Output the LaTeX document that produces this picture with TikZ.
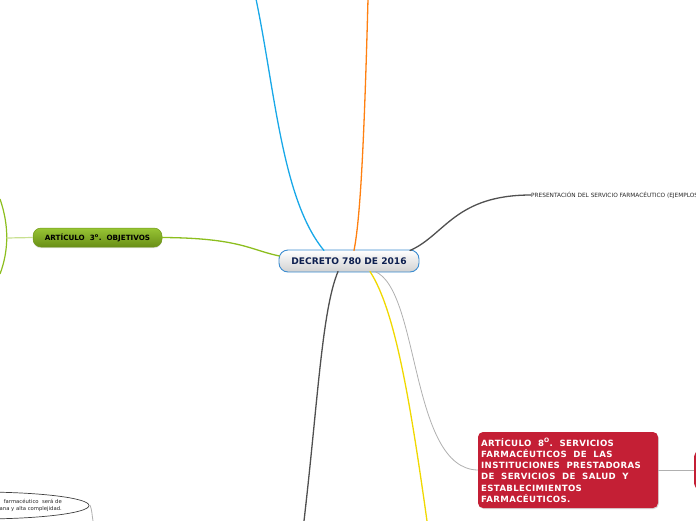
\documentclass[tikz,border=0pt]{standalone}
\usepackage{fontspec}
\setmainfont{DejaVu Sans}
\usetikzlibrary{shadows,shapes.geometric}
\definecolor{cblue}{HTML}{18A8E8}
\definecolor{corange}{HTML}{FF8010}
\definecolor{cdark}{HTML}{505050}
\definecolor{cyellow}{HTML}{F0D800}
\definecolor{clgray}{HTML}{B0B0B0}
\definecolor{cgreen}{HTML}{8CBE1E}
\definecolor{cgreenl}{HTML}{C8E090}
\definecolor{cred}{HTML}{C41F35}
\definecolor{cnavy}{HTML}{0E2050}
\definecolor{cborder}{HTML}{3B8CD0}
\tikzset{
  conn/.style={line width=1.3pt, line cap=round},
  thin conn/.style={line width=0.8pt},
  centralbox/.style={draw=cborder, line width=0.9pt, rounded corners=9pt, top color=white, bottom color=black!18,
    minimum width=140pt, minimum height=22pt, inner sep=0pt,
    font=\fontsize{9.1}{10}\selectfont\bfseries, text=cnavy},
  greenbox/.style={draw=cgreen!80!black, line width=0.5pt, rounded corners=8pt, top color=cgreen!90!white, bottom color=cgreen!75!black,
    minimum width=129pt, minimum height=19pt, inner sep=0pt, drop shadow={shadow xshift=0pt, shadow yshift=-1.2pt, opacity=0.25},
    font=\fontsize{7.2}{8}\selectfont\bfseries, text=black},
  redbox/.style={fill=cred, rounded corners=5pt, drop shadow={shadow xshift=0.8pt, shadow yshift=-1pt, opacity=0.3}},
  smalltext/.style={font=\fontsize{5.8}{6}\selectfont, text=black!85, inner sep=0pt},
}
\begin{document}
\begin{tikzpicture}[x=1pt,y=-1pt]
\useasboundingbox (0,0) rectangle (696,520);
\coordinate (blueEnd) at (256,-1);
\coordinate (orangeEnd) at (368,-1);
\coordinate (darkEnd) at (304,521);
\coordinate (yellowEnd) at (427,521);
\coordinate (arcTop) at (0,199);
\coordinate (arcMid) at (6.5,238);
\coordinate (arcBot) at (0,274);
\coordinate (ellEdge) at (90,505);
\coordinate (ellDown) at (93,521);

\node[centralbox] (center) at (349,261) {DECRETO 780 DE 2016};
\node[greenbox] (obj) at (97.5,237.5) {ART\'ICULO\ \ 3\textsuperscript{o}.\ \ OBJETIVOS};
\node[redbox, minimum width=180pt, minimum height=76pt, inner sep=0pt] (art8) at (568,470) {};
\node[anchor=north west, inner sep=0pt, align=left, text=white,
  font=\fontsize{8.6}{11.3}\selectfont\bfseries\addfontfeature{LetterSpace=4}] (art8t) at (481,437.5)
  {ART\'ICULO\ \ 8\textsuperscript{O}.\ \ SERVICIOS\\FARMAC\'EUTICOS\ \ DE\ \ LAS\\INSTITUCIONES\ \ PRESTADORAS\\DE\ \ SERVICIOS\ \ DE\ \ SALUD\ \ Y\\ESTABLECIMIENTOS\\FARMAC\'EUTICOS.};
\node[redbox, minimum width=40pt, minimum height=38pt, anchor=west] (next) at (694,470) {};
\node[smalltext, anchor=west] (pres) at (531,195) {PRESENTACI\'ON DEL SERVICIO FARMAC\'EUTICO (EJEMPLOS};
\node[draw=black!75, line width=0.7pt, ellipse, minimum width=218pt, minimum height=27pt, inner sep=0pt] (ell) at (-20,505.5) {};
\node[smalltext, anchor=east, align=right, font=\fontsize{5.3}{7}\selectfont] (elltext) at (62,505.5) {farmac\'eutico\ \ ser\'a de\\ana y alta complejidad.};

\draw[conn, cblue] (blueEnd) .. controls (275,90) and (282,200) .. (324,250.5);
\draw[conn, corange] (orangeEnd) .. controls (364,150) and (360,220) .. (354,250.5);
\draw[conn, cdark] (410,250.5) .. controls (445,235) and (455,195) .. (pres.west);
\draw[conn, cgreen] (obj.east) .. controls (240,238) and (250,250) .. (279.5,256);
\draw[conn, cdark] (338,271.5) .. controls (322,310) and (318,400) .. (darkEnd);
\draw[conn, cyellow] (370,271.5) .. controls (395,310) and (410,400) .. (yellowEnd);
\draw[thin conn, clgray] (375,271.5) .. controls (420,290) and (410,469) .. (art8.west);
\draw[thin conn, clgray] (art8.east) -- (next.west);
\draw[line width=1.2pt, cgreen] (arcTop) .. controls (9,225) and (9,250) .. (arcBot);
\draw[line width=1.2pt, cgreenl] (arcMid) -- (obj.west);
\draw[thin conn, clgray] (ellEdge) .. controls (92,510) and (92,515) .. (ellDown);
\end{tikzpicture}
\end{document}
